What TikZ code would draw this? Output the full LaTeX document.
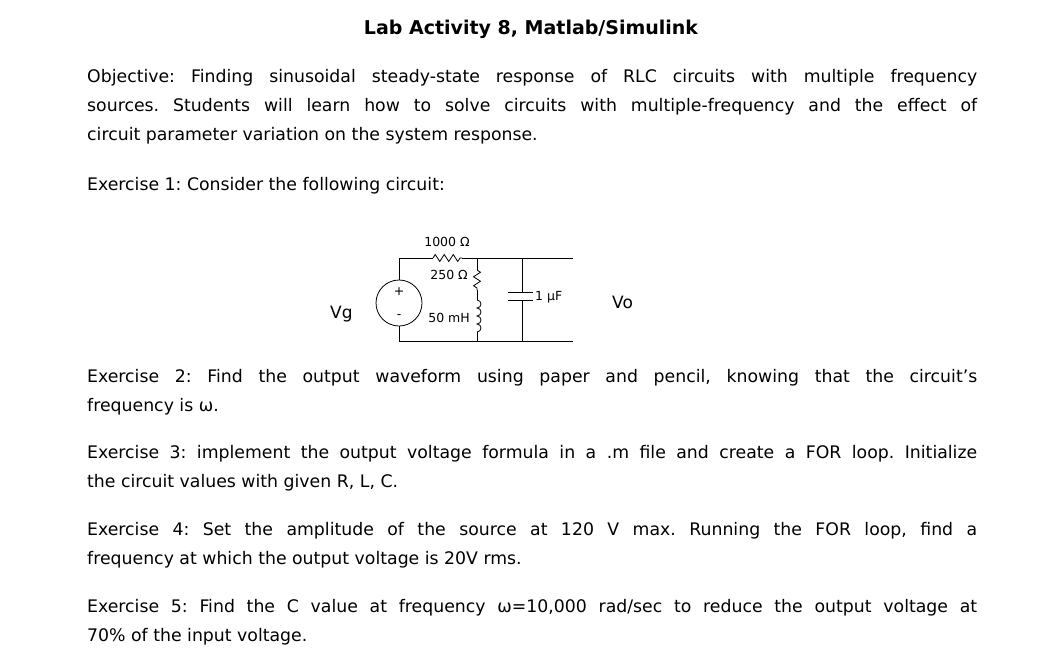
\documentclass[tikz,border=0pt]{standalone}
\usepackage{fontspec}
\setmainfont{DejaVu Sans}
\usetikzlibrary{decorations.pathmorphing}
\begin{document}
\frenchspacing
\begin{tikzpicture}[x=1pt,y=-1pt,
  para/.style={anchor=base west,inner sep=0pt,text width=890pt,align=justify,font=\fontsize{17.3}{29}\selectfont\frenchspacing},
  small/.style={inner sep=0pt,font=\fontsize{12.5}{14}\selectfont},
  wire/.style={line width=0.8pt},
  zz/.style={wire,decorate,decoration={zigzag,segment length=9pt,amplitude=3.5pt}}]
\useasboundingbox (0,0) rectangle (1062,662);
\node[anchor=base,inner sep=0pt,font=\fontsize{19}{22}\selectfont\bfseries] (title) at (531,34) {Lab Activity 8, Matlab/Simulink};
\node[para] (obj) at (87,82) {Objective: Finding sinusoidal steady-state response of RLC circuits with multiple frequency\linebreak sources. Students will learn how to solve circuits with multiple-frequency and the effect of\linebreak circuit parameter variation on the system response.};
\node[para] (ex1) at (87,190) {Exercise 1: Consider the following circuit:};
\node[para] (ex2) at (87,382) {Exercise 2: Find the output waveform using paper and pencil, knowing that the circuit's\linebreak frequency is ω.};
\node[para] (ex3) at (87,458) {Exercise 3: implement the output voltage formula in a .m file and create a FOR loop. Initialize\linebreak the circuit values with given R, L, C.};
\node[para] (ex4) at (87,535) {Exercise 4: Set the amplitude of the source at 120 V max. Running the FOR loop, find a\linebreak frequency at which the output voltage is 20V rms.};
\node[para] (ex5) at (87,612) {Exercise 5: Find the C value at frequency ω=10,000 rad/sec to reduce the output voltage at\linebreak 70\% of the input voltage.};
% circuit
\node[draw,circle,wire,minimum size=46pt,inner sep=0pt] (src) at (399,303) {};
\draw[wire] (src.north) -- (399,258) -- (433,258);
\draw[zz] (433,258) -- (462,258);
\draw[wire] (462,258) -- (573,258);
\draw[wire] (src.south) -- (399,341) -- (573,341);
\draw[wire] (477,258) -- (477,270);
\draw[zz] (477,270) -- (477,290);
\draw[wire] (477,290) -- (477,300);
\draw[wire] (477,300) arc[start angle=90,end angle=-90,radius=4pt] arc[start angle=90,end angle=-90,radius=4pt] arc[start angle=90,end angle=-90,radius=4pt] arc[start angle=90,end angle=-90,radius=4pt];
\draw[wire] (477,332) -- (477,341);
\draw[wire] (522,258) -- (522,292) (508,292) -- (533,292) (508,300) -- (533,300) (522,300) -- (522,341);
\node[small,anchor=base] (r1) at (447,246) {1000 Ω};
\node[small,anchor=base east] (r2) at (468,279) {250 Ω};
\node[small,anchor=base east] (l1) at (470,322) {50 mH};
\node[small,anchor=base west] (c1) at (535,300) {1 μF};
\node[small] (pl) at (399,292) {+};
\node[small] (mi) at (399,317) {-};
\node[anchor=base west,inner sep=0pt,font=\fontsize{17}{20}\selectfont] (vg) at (330,318) {Vg};
\node[anchor=base west,inner sep=0pt,font=\fontsize{17}{20}\selectfont] (vo) at (612,308) {Vo};
\end{tikzpicture}
\end{document}
